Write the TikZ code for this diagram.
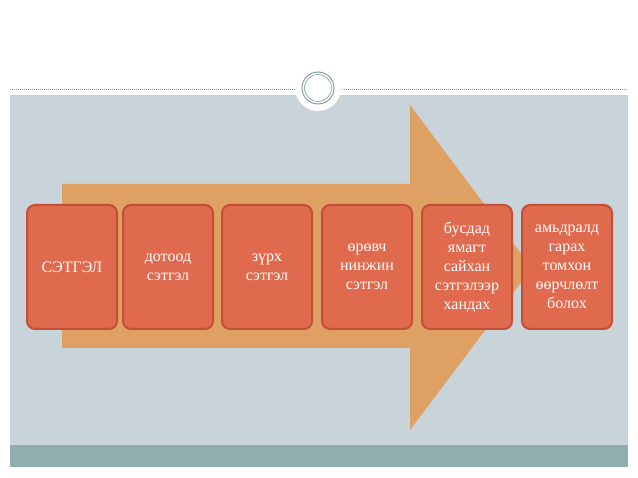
\documentclass[tikz,border=0pt]{standalone}
\usepackage{fontspec}
\setmainfont{Liberation Serif}
\begin{document}
\begin{tikzpicture}[x=1pt,y=-1pt,
 box/.style={draw=boxb,line width=2pt,fill=boxf,rounded corners=8pt,minimum width=90pt,minimum height=124pt,text width=88pt,align=center,text=white,font=\fontsize{16}{19}\selectfont,anchor=north west,inner sep=1pt}]
\definecolor{bg}{HTML}{C8D4DA}
\definecolor{barc}{HTML}{8FAEAE}
\definecolor{arr}{HTML}{DFA063}
\definecolor{boxf}{HTML}{DF6A4E}
\definecolor{boxb}{HTML}{C24F36}
\definecolor{ln}{HTML}{7FA0A0}
\useasboundingbox (0,0) rectangle (638,478);
\fill[white] (0,0) rectangle (638,478);
\fill[bg] (10,95) rectangle (628,445);
\fill[barc] (10,445) rectangle (628,467);
\draw[ln,dashed,dash pattern=on 1pt off 1pt] (10,89) -- (628,89);
\fill[white] (318,88) circle (23);
\draw[ln,line width=1pt] (318,88) circle (16);
\draw[ln,line width=0.6pt] (318,88) circle (13.5);
\fill[arr] (62,184) -- (410,184) -- (410,105) -- (532,268) -- (410,430) -- (410,348) -- (62,348) -- cycle;
\node[box] (b1) at (26,204) {СЭТГЭЛ};
\node[box] (b2) at (122,204) {дотоод\\сэтгэл};
\node[box] (b3) at (221,204) {зүрх\\сэтгэл};
\node[box] (b4) at (321,204) {өрөвч\\нинжин\\сэтгэл};
\node[box] (b5) at (421,204) {бусдад\\ямагт\\сайхан\\сэтгэлээр\\хандах};
\node[box] (b6) at (521,204) {амьдралд\\гарах\\томхон\\өөрчлөлт\\болох};
\end{tikzpicture}
\end{document}
